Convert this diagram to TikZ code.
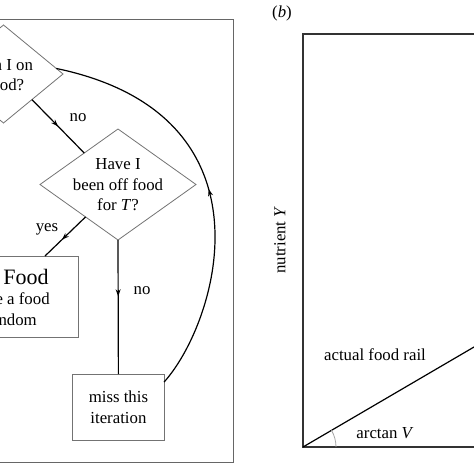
\documentclass[tikz,border=0pt]{standalone}
\usepackage{fontspec}
\setmainfont{Liberation Serif}
\usepackage{xcolor}
\usepackage{tikz}
\usetikzlibrary{shapes.geometric,arrows.meta,decorations.markings}

\definecolor{boxgray}{gray}{0.45}
\definecolor{framegray}{gray}{0.4}
\definecolor{axisgray}{gray}{0.2}
\definecolor{arcgray}{gray}{0.65}

\tikzset{
  decision/.style={diamond, draw=boxgray, line width=0.8pt, inner sep=0pt, outer sep=0pt},
  process/.style={rectangle, draw=boxgray, line width=0.8pt, inner sep=0pt, outer sep=0pt},
  flow/.style={line width=1.2pt, postaction={decorate},
    decoration={markings, mark=at position #1 with {\arrow{Stealth[length=7pt,width=5pt]}}}},
  flow/.default=0.5
}

\begin{document}
\begin{tikzpicture}[x=1pt,y=-1pt,every node/.style={font=\fontsize{16.8}{20.5}\selectfont}]
  \useasboundingbox (0,0) rectangle (474,474);

  % Panel (a) frame
  \draw[framegray, line width=1pt] (-10,19) rectangle (233,462.5);

  % Decisions
  \node[decision, minimum width=119pt, minimum height=98pt] (onfood) at (3.5,74) {};
  \node[align=center] (onfoodtxt) at (5,75) {Am I on\\food?};
  \node[decision, minimum width=156pt, minimum height=111pt] (offfood) at (118,184.5) {};
  \node[align=center] (offfoodtxt) at (118,185) {Have I\\been off food\\for \textit{T}?};

  % Actions
  \node[process, minimum width=150pt, minimum height=81pt] (gofood) at (3,296.5) {};
  \node[align=center] (gofoodtxt) at (3,297) {{\fontsize{22}{24}\selectfont Find Food}\\choose a food\\at random};
  \node[process, minimum width=91.3pt, minimum height=66.7pt] (miss) at (118.4,407.4) {};
  \node[align=center] (misstxt) at (118.4,407) {miss this\\iteration};

  % Connectors
  \draw[flow] (onfood.-42) -- (offfood.137);
  \node (nofirst) at (78,118) {no};
  \draw[flow=0.58] (offfood.225) -- ([xshift=-33pt]gofood.north east);
  \node (yes) at (47,229) {yes};
  \draw[flow=0.42] (offfood.south) -- (miss.north);
  \node (nosecond) at (142,291) {no};
  \draw[flow=0.5] (miss.29) .. controls (218,322) and (280,115) .. (onfood.6);

  % Panel (b)
  \node (btag) at (282,13) {(\textit{b})};
  \draw[axisgray, line width=1.5pt] (480,34) -- (303,34) -- (303,447) -- (480,447);
  \coordinate (origin) at (303,447);
  \draw[line width=1.2pt] (origin) -- (480,343.5);
  \draw[arcgray, line width=0.8pt] ([xshift=33pt]origin) arc (0:-30.3:33);
  \node[rotate=90] (ylabel) at (280,240) {nutrient \textit{Y}};
  \node (rail) at (375,355) {actual food rail};
  \node (angle) at (385,433) {arctan \textit{V}};
\end{tikzpicture}
\end{document}
